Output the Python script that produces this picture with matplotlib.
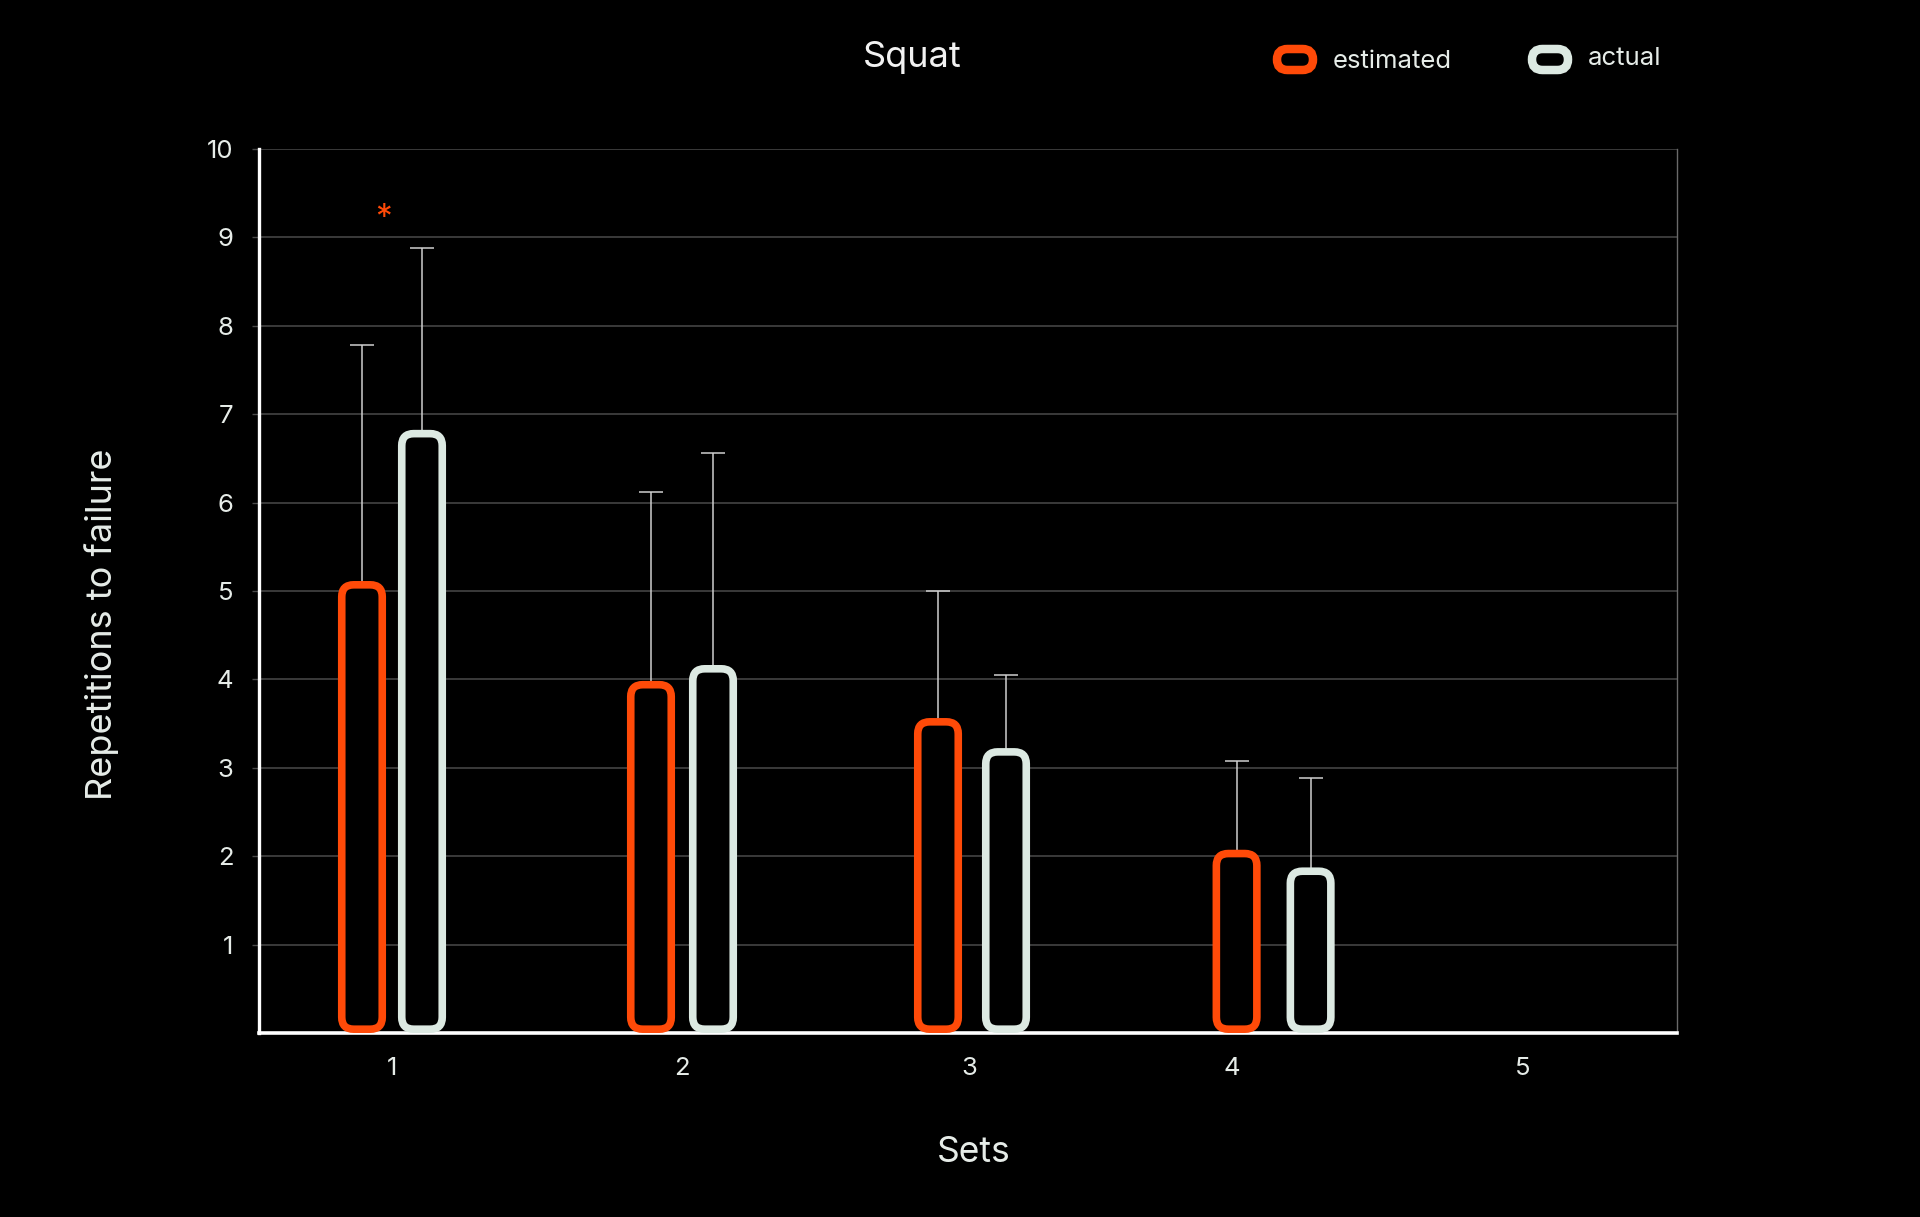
import matplotlib
matplotlib.use("Agg")
import matplotlib.pyplot as plt
from matplotlib.patches import FancyBboxPatch
import numpy as np

# data (bar tops and error bar tops)
sets = ["1", "2", "3", "4", "5"]
est_mean = [5.07, 3.94, 3.52, 2.03]
est_sd = [2.71, 2.18, 1.48, 1.05]
act_mean = [6.78, 4.12, 3.18, 1.83]
act_sd = [2.10, 2.44, 0.87, 1.05]

# layout: where the set labels and the bar pairs sit (the source is not evenly spaced)
tick_x = [1.0, 2.0, 2.99, 3.897, 4.90]
group_x = [1.0, 2.0, 3.0, 4.04]
half_gap_px = [30, 31, 34, 37]

ORANGE = "#FF4A08"
PALE = "#DCE9E2"
TXT = "#E6ECE8"

plt.rcParams["font.family"] = ["Inter", "DejaVu Sans"]

W, H = 1920, 1217
fig = plt.figure(figsize=(W / 100, H / 100), dpi=100, facecolor="black")
ax = fig.add_axes([259 / W, 184 / H, 1418 / W, 884 / H])
ax.set_facecolor("black")
ax.set_xlim(0.5414, 5.431)
ax.set_ylim(0, 10)

# pixel -> data helpers
p = ax.transData.transform([(0, 0), (1, 1)])
xpx = p[1, 0] - p[0, 0]
ypx = p[1, 1] - p[0, 1]

n = len(est_mean)
gx = np.array(group_x)
off = np.array(half_gap_px) / xpx
bw = 40.5 / xpx
lw_px = 7.6
base = (lw_px / 2) / ypx


def draw_rounded(bars, color):
    for b in bars:
        x0, y0 = b.get_x(), b.get_y()
        w, h = b.get_width(), b.get_height()
        b.remove()
        patch = FancyBboxPatch((x0, y0), w, h,
                               boxstyle="round,pad=0,rounding_size=%f" % (12 / xpx),
                               mutation_aspect=xpx / ypx,
                               facecolor="black", edgecolor=color,
                               linewidth=lw_px * 72 / 100, zorder=4)
        ax.add_patch(patch)


eb_kw = dict(fmt="none", ecolor="#CFCFCF", elinewidth=1.1, capsize=8.6,
             capthick=1.1, zorder=2)
ax.errorbar(gx - off, est_mean, yerr=[np.zeros(n), est_sd], **eb_kw)
ax.errorbar(gx + off, act_mean, yerr=[np.zeros(n), act_sd], **eb_kw)

b1 = ax.bar(gx - off, np.array(est_mean) - base, bottom=base, width=bw)
b2 = ax.bar(gx + off, np.array(act_mean) - base, bottom=base, width=bw)
draw_rounded(b1, ORANGE)
draw_rounded(b2, PALE)

# significance mark
ax.text(group_x[0] - 0.028, 9.21, "*", color=ORANGE, fontsize=24,
        ha="center", va="center", zorder=5)

ax.set_xticks(tick_x)
ax.set_xticklabels(sets)
ax.set_yticks(range(1, 11))
ax.grid(axis="y", color="#4A4A4A", linewidth=1.1, zorder=0)
ax.set_axisbelow(True)
ax.tick_params(axis="x", length=0, pad=17.5, labelsize=18.5, labelcolor=TXT)
ax.tick_params(axis="y", length=5, width=1, color="#4A4A4A", pad=13.5,
               labelsize=18.5, labelcolor=TXT)

ax.spines["top"].set_visible(False)
ax.spines["right"].set_color("#6A6A6A")
ax.spines["right"].set_linewidth(1)
ax.spines["left"].set_color("white")
ax.spines["left"].set_linewidth(2.4)
ax.spines["bottom"].set_color("white")
ax.spines["bottom"].set_linewidth(2.6)

ax.set_xlabel("Sets", fontsize=25.5, color=TXT)
ax.xaxis.label.set_va("baseline")
ax.xaxis.set_label_coords((974 - 259) / 1418, (55 - 184) / 884)
ax.set_ylabel("Repetitions to failure", fontsize=26, color=TXT)
ax.yaxis.label.set_va("center")
ax.yaxis.set_label_coords((102 - 259) / 1418, (1217 - 624 - 184) / 884)

# overlay in pixel units for title and legend
ov = fig.add_axes([0, 0, 1, 1], facecolor="none")
ov.set_xlim(0, W)
ov.set_ylim(H, 0)
ov.axis("off")

ov.text(912, 67, "Squat", fontsize=26, color="#F2F2F2", ha="center", va="baseline")

for x, y, col, label, tx, ty in [(1277, 49, ORANGE, "estimated", 1333, 68),
                                 (1532, 49, PALE, "actual", 1588, 65)]:
    ov.add_patch(FancyBboxPatch((x, y), 36, 21,
                                boxstyle="round,pad=0,rounding_size=10.5",
                                facecolor="black", edgecolor=col,
                                linewidth=8.5 * 72 / 100))
    ov.text(tx, ty, label, fontsize=18.5, color=TXT, ha="left", va="baseline")

fig.savefig("out.png", dpi=100, facecolor="black")
